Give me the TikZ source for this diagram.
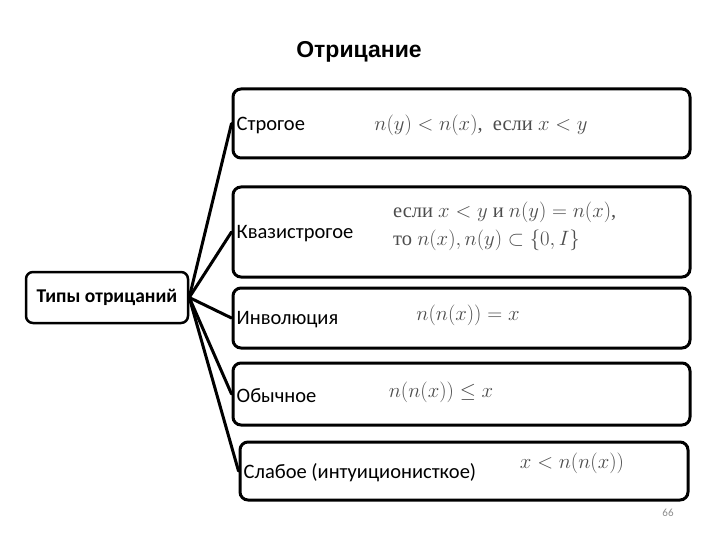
\documentclass[tikz,border=0pt]{standalone}
\usepackage{fontspec}
\setmainfont{Carlito}
\newfontfamily\titlefont{Liberation Sans}
\newfontfamily\cyrserif{Liberation Serif}
\usetikzlibrary{positioning}
\tikzset{
  panel/.style={draw=black,line width=3pt,rounded corners=8pt,
    minimum width=457pt,inner sep=0pt},
  lbl/.style={anchor=west,inner sep=0pt,font=\fontsize{20.5}{24}\selectfont},
  formula/.style={text=black!70,font=\cyrserif\fontsize{20.5}{28}\selectfont,
    inner sep=0pt,align=left},
  link/.style={line width=3pt,line cap=round},
}
\begin{document}
\begin{tikzpicture}[x=1pt,y=-1pt]
  \useasboundingbox (0,0) rectangle (720,540);
  \node[font=\titlefont\bfseries\fontsize{23}{26}\selectfont] (title) at (359,52) {Отрицание};
  % left box
  \node[draw=black,line width=2.5pt,rounded corners=7pt,minimum width=162pt,
    minimum height=51pt,inner sep=0pt,font=\bfseries\fontsize{19.5}{22}\selectfont] (types) at (107,297.5) {Типы отрицаний};
  % the kinds
  \foreach \i/\cx/\cy/\w/\h/\lab in {1/461.5/123.5/457/69/Строгое,
      2/461.5/232/457/90/Квазистрогое, 3/461.5/318/457/60/Инволюция,
      4/461.5/394/457/62/Обычное, 5/464/471/448/58/{Слабое (интуиционисткое)}}{
    \node[panel,minimum width=\w,minimum height=\h] (b\i) at (\cx,\cy) {};
    \node[lbl] (l\i) at ([xshift=5pt,yshift=-2pt]b\i.west) {\lab};
    \draw[link] (types.east) -- (b\i.west);
  }
  \node[formula] (f1) at (481,125) {$n(y) < n(x)$, \ если $x < y$};
  \node[formula,anchor=west] (f2) at (393,226) {если $x < y$ и $n(y) = n(x)$,\\
    то $n(x), n(y) \subset \{0, I\}$};
  \node[formula] (f3) at (468,315) {$n(n(x)) = x$};
  \node[formula] (f4) at (441,392) {$n(n(x)) \leq x$};
  \node[formula] (f5) at (572,463) {$x < n(n(x))$};
  \node[text=black!45,font=\fontsize{11}{12}\selectfont] (page) at (668,513) {66};
\end{tikzpicture}
\end{document}
